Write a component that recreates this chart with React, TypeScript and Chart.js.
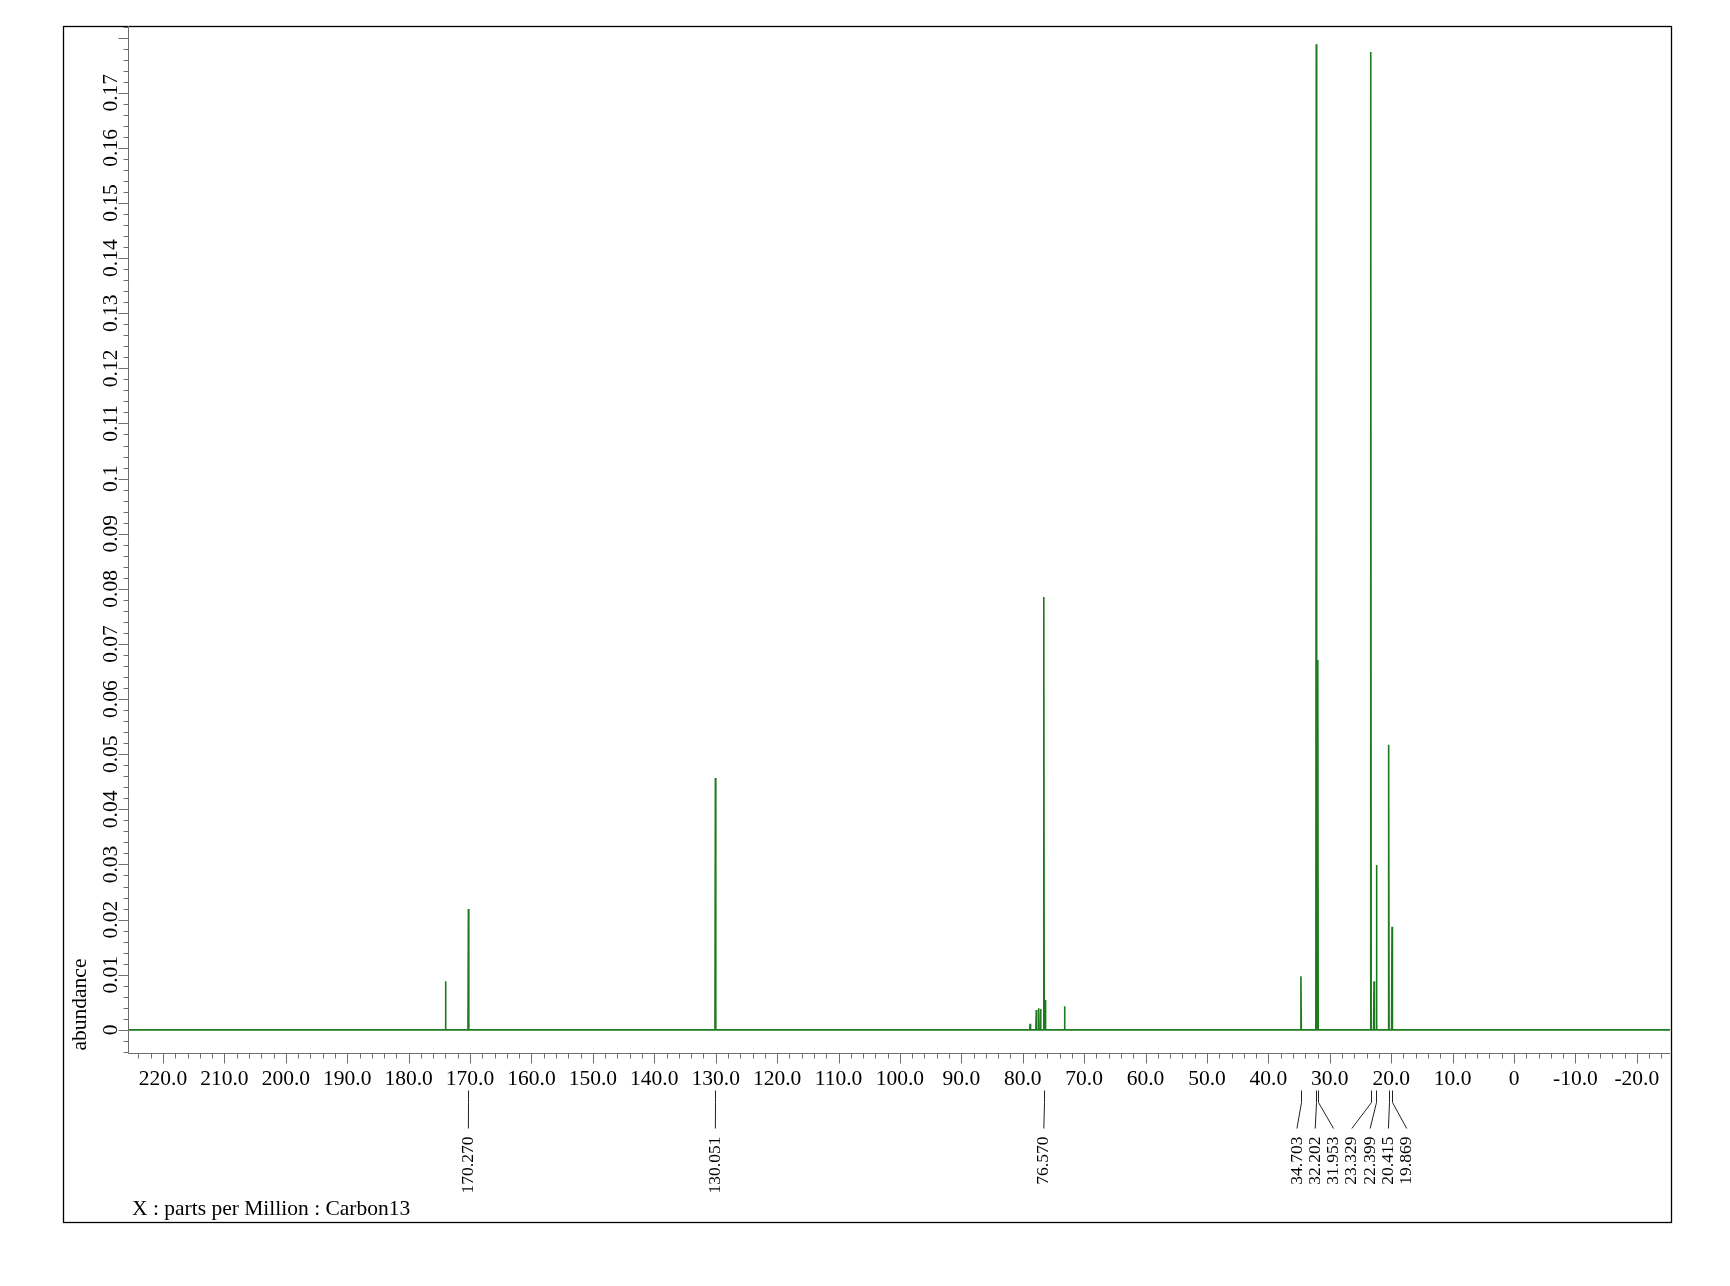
import React, { useEffect, useRef } from 'react';
import { Chart, registerables } from 'chart.js';

Chart.register(...registerables);

// ---- Data ----
const xRangeMin = -25.4;
const xRangeMax = 225.7;
const yRangeMin = -0.0042;
const yRangeMax = 0.1821;

const peakShifts = [174.0, 170.27, 130.051, 78.8, 77.8, 77.4, 77.1, 76.57, 76.35, 73.2, 34.703, 32.202, 31.953, 23.329, 22.8, 22.399, 20.415, 19.869];
const peakHeights = [0.0088, 0.0219, 0.0457, 0.0011, 0.0036, 0.0039, 0.0038, 0.0785, 0.0054, 0.0043, 0.0097, 0.1788, 0.0671, 0.1774, 0.0088, 0.0299, 0.0517, 0.0187];

const labelShifts = [170.27, 130.051, 76.57, 34.703, 32.202, 31.953, 23.329, 22.399, 20.415, 19.869];
const labelTexts = ['170.270', '130.051', '76.570', '34.703', '32.202', '31.953', '23.329', '22.399', '20.415', '19.869'];

const xTickValues = [220, 210, 200, 190, 180, 170, 160, 150, 140, 130, 120, 110, 100, 90, 80, 70, 60, 50, 40, 30, 20, 10, 0, -10, -20];
const xTickLabels = ['220.0', '210.0', '200.0', '190.0', '180.0', '170.0', '160.0', '150.0', '140.0', '130.0', '120.0', '110.0', '100.0', '90.0', '80.0', '70.0', '60.0', '50.0', '40.0', '30.0', '20.0', '10.0', '0', '-10.0', '-20.0'];
const yTickValues = [0, 0.01, 0.02, 0.03, 0.04, 0.05, 0.06, 0.07, 0.08, 0.09, 0.1, 0.11, 0.12, 0.13, 0.14, 0.15, 0.16, 0.17];
const yTickLabels = ['0', '0.01', '0.02', '0.03', '0.04', '0.05', '0.06', '0.07', '0.08', '0.09', '0.1', '0.11', '0.12', '0.13', '0.14', '0.15', '0.16', '0.17'];

const xMinorStep = 2;
const yMinorStep = 0.002;

const xTitle = 'X : parts per Million : Carbon13';
const yTitle = 'abundance';

const SERIF = '"Liberation Serif", "Times New Roman", serif';
const LINE_GREEN = '#1e7a1e';

function buildSpectrum() {
  const halfWidth = 0.07;
  const order = peakShifts.map((p, i) => i).sort((a, b) => peakShifts[b] - peakShifts[a]);
  const pts: { x: number; y: number }[] = [{ x: xRangeMax, y: 0 }];
  for (const i of order) {
    pts.push({ x: peakShifts[i] + halfWidth, y: 0 });
    pts.push({ x: peakShifts[i], y: peakHeights[i] });
    pts.push({ x: peakShifts[i] - halfWidth, y: 0 });
  }
  pts.push({ x: xRangeMin, y: 0 });
  return pts;
}

const decorPlugin = {
  id: 'nmrDecor',
  afterDraw(chart: any) {
    const ctx: CanvasRenderingContext2D = chart.ctx;
    const xs = chart.scales.x;
    const ys = chart.scales.y;
    const area = chart.chartArea;
    const axisY = Math.round(area.bottom) + 0.5;
    const axisX = Math.round(area.left) + 0.5;
    ctx.save();

    // outer frame
    ctx.strokeStyle = '#000';
    ctx.lineWidth = 1.3;
    ctx.strokeRect(63.5, 26.5, 1608, 1196);

    // axis lines
    ctx.strokeStyle = '#6e6e6e';
    ctx.lineWidth = 1;
    ctx.beginPath();
    ctx.moveTo(axisX, area.top);
    ctx.lineTo(axisX, axisY);
    ctx.lineTo(area.right, axisY);
    ctx.stroke();

    // y ticks
    ctx.beginPath();
    const kyMin = Math.ceil(yRangeMin / yMinorStep - 1e-9);
    const kyMax = Math.floor(yRangeMax / yMinorStep + 1e-9);
    for (let k = kyMin; k <= kyMax; k++) {
      const py = Math.round(ys.getPixelForValue(k * yMinorStep)) + 0.5;
      const len = k % 5 === 0 ? 10 : 5;
      ctx.moveTo(axisX, py);
      ctx.lineTo(axisX - len, py);
    }
    // x ticks
    const kxMin = Math.ceil(xRangeMin / xMinorStep);
    const kxMax = Math.floor(xRangeMax / xMinorStep);
    for (let k = kxMin; k <= kxMax; k++) {
      const px = Math.round(xs.getPixelForValue(k * xMinorStep)) + 0.5;
      const len = k % 5 === 0 ? 10 : 5;
      ctx.moveTo(px, axisY);
      ctx.lineTo(px, axisY + len);
    }
    ctx.stroke();

    // tick labels
    ctx.fillStyle = '#000';
    ctx.font = `21.5px ${SERIF}`;
    ctx.textAlign = 'center';
    ctx.textBaseline = 'alphabetic';
    xTickValues.forEach((v, i) => {
      ctx.fillText(xTickLabels[i], xs.getPixelForValue(v), axisY + 31.5);
    });
    yTickValues.forEach((v, i) => {
      ctx.save();
      ctx.translate(axisX - 12, ys.getPixelForValue(v));
      ctx.rotate(-Math.PI / 2);
      ctx.fillText(yTickLabels[i], 0, 0);
      ctx.restore();
    });

    // axis titles
    ctx.save();
    ctx.translate(86, axisY - 3);
    ctx.rotate(-Math.PI / 2);
    ctx.textAlign = 'left';
    ctx.fillText(yTitle, 0, 0);
    ctx.restore();
    ctx.textAlign = 'left';
    ctx.fillText(xTitle, 132, 1215);

    // peak annotations
    const gap = 18.3;
    const items = labelShifts.map((v, i) => ({ px: xs.getPixelForValue(v), text: labelTexts[i], lx: 0 }));
    items.sort((a, b) => a.px - b.px);
    const groups: typeof items[] = [];
    for (const it of items) {
      const g = groups[groups.length - 1];
      if (g && it.px - g[g.length - 1].px < gap * 3) g.push(it);
      else groups.push([it]);
    }
    for (const g of groups) {
      const mean = g.reduce((s, it) => s + it.px, 0) / g.length;
      g.forEach((it, j) => {
        it.lx = mean + (j - (g.length - 1) / 2) * gap;
      });
    }
    const yTop = axisY + 37;
    const yBend = axisY + 49;
    const yEnd = axisY + 75;
    ctx.strokeStyle = '#222';
    ctx.lineWidth = 1;
    ctx.font = `17.5px ${SERIF}`;
    for (const it of items) {
      const px = Math.round(it.px) + 0.5;
      ctx.beginPath();
      ctx.moveTo(px, yTop);
      ctx.lineTo(px, yBend);
      ctx.lineTo(it.lx, yEnd);
      ctx.stroke();
      ctx.save();
      ctx.translate(it.lx, yEnd + 8);
      ctx.rotate(-Math.PI / 2);
      ctx.textAlign = 'right';
      ctx.textBaseline = 'middle';
      ctx.fillText(it.text, 0, 0);
      ctx.restore();
    }
    ctx.restore();
  },
};

export default function App() {
  const ref = useRef<HTMLCanvasElement>(null);
  useEffect(() => {
    if (!ref.current) return;
    const chart = new Chart(ref.current, {
      type: 'scatter',
      data: {
        datasets: [
          {
            label: 'Carbon13',
            data: buildSpectrum(),
            showLine: true,
            borderColor: LINE_GREEN,
            backgroundColor: LINE_GREEN,
            borderWidth: 1.6,
            pointRadius: 0,
            pointHoverRadius: 0,
            tension: 0,
          },
        ],
      },
      options: {
        responsive: false,
        animation: false,
        devicePixelRatio: 1,
        layout: { padding: { left: 128, right: 60, top: 26, bottom: 233 } },
        plugins: { legend: { display: false }, tooltip: { enabled: false } },
        events: [],
        scales: {
          x: { type: 'linear', reverse: true, min: xRangeMin, max: xRangeMax, display: false },
          y: { type: 'linear', min: yRangeMin, max: yRangeMax, display: false },
        },
      },
      plugins: [decorPlugin],
    });
    return () => chart.destroy();
  }, []);
  return (
    <div style={{ position: 'absolute', left: 0, top: 0, width: 1730, height: 1286, background: '#fff' }}>
      <canvas ref={ref} width={1730} height={1286} style={{ display: 'block' }} />
    </div>
  );
}
